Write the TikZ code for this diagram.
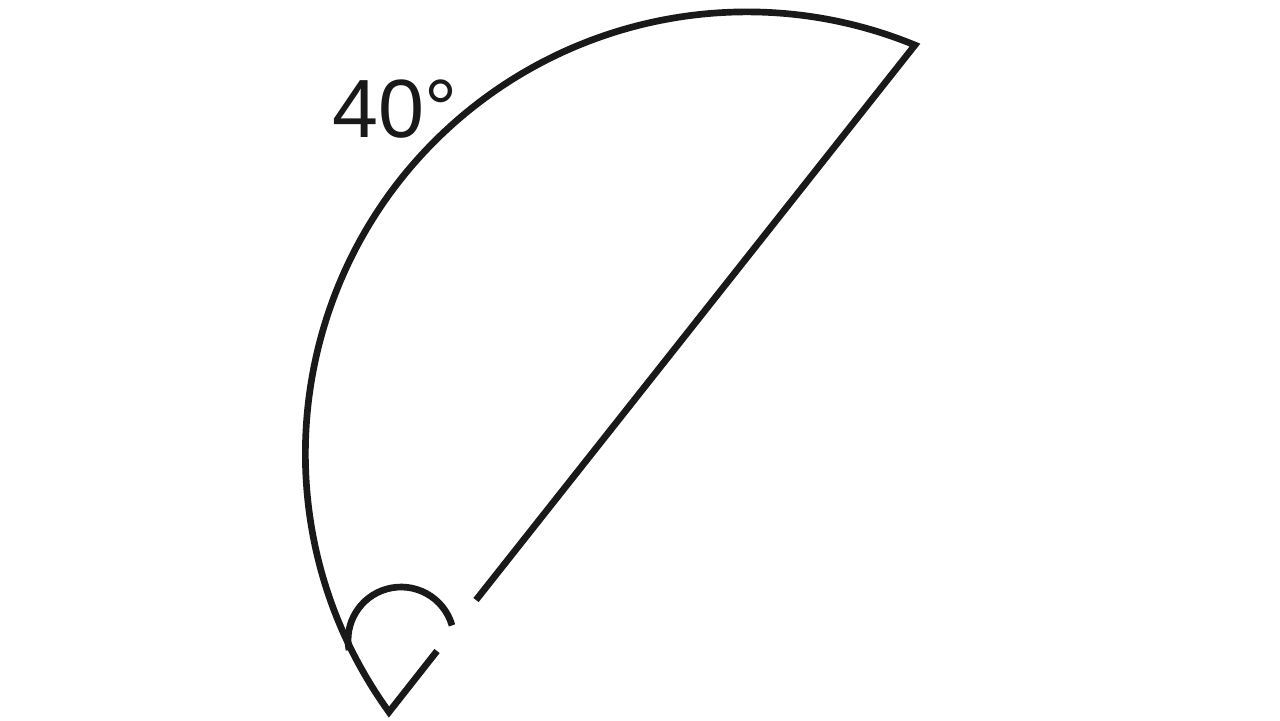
\documentclass[tikz,border=0pt]{standalone}
\usepackage{fontspec}
\setmainfont{Liberation Sans}
\begin{document}
\begin{tikzpicture}[x=0.01cm,y=0.01cm,
  stroke/.style={line width=1.9pt, draw=black!90, line join=miter},
  lbl/.style={inner sep=0pt, font=\fontsize{23.5}{28}\selectfont, text=black!90}]
\useasboundingbox[fill=white] (0,0) rectangle (1280,720);
\coordinate (A) at (389,8);
\coordinate (G1) at (437,69);
\coordinate (G2) at (476,120);
\coordinate (B) at (915,675);
% main outline: short segment, big arc, long segment
\draw[stroke] (G1) -- (A) arc[start angle=215.84, end angle=67.64, radius=441.6] -- (G2);
% angle mark
\draw[stroke, line cap=butt] (452,94.6) arc[start angle=16, end angle=191, radius=53];
\node[lbl, anchor=base west] (t) at (332,583) {40°};
\end{tikzpicture}
\end{document}
